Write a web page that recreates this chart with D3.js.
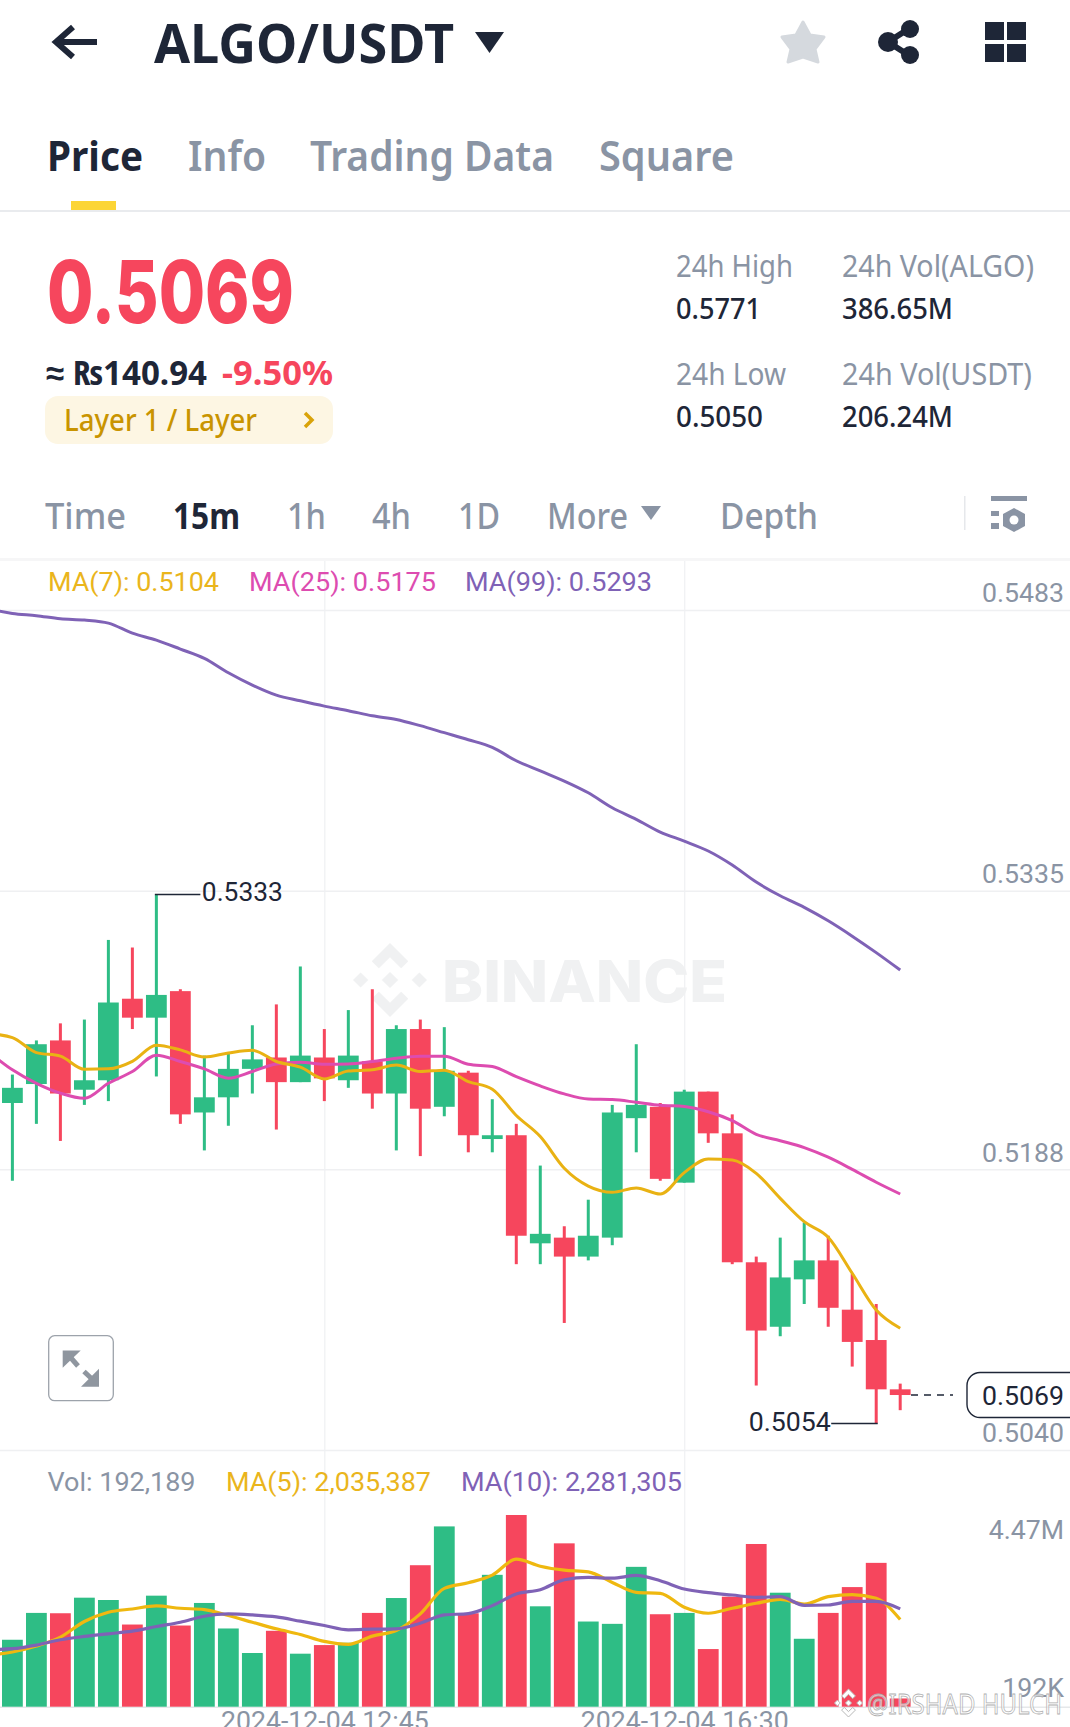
<!DOCTYPE html>
<html><head><meta charset="utf-8">
<style>html,body{margin:0;padding:0;background:#fff;overflow:hidden}svg{display:block}</style>
<script src="https://cdnjs.cloudflare.com/ajax/libs/d3/7.8.5/d3.min.js"></script>
</head><body><svg id="c" width="1070" height="1727"></svg>
<script>
const opens=[.5223,.5233,.5256,.5230,.5235,.5278,.5268,.5282,.5218,.5226,.5241,.5247,.5234,.5247,.5235,.5245,.5228,.5262,.5221,.5239,.5204,.5206,.5149,.5152,.5142,.5152,.5215,.5221,.5181,.5229,.5207,.5139,.5105,.5130,.5140,.5114,.5098,.5072];
const closes=[.5231,.5254,.5228,.5235,.5276,.5268,.5280,.5217,.5226,.5241,.5246,.5234,.5248,.5236,.5248,.5228,.5262,.5220,.5240,.5206,.5206,.5153,.5154,.5142,.5153,.5218,.5222,.5183,.5229,.5207,.5139,.5103,.5131,.5140,.5115,.5097,.5072,.5069];
const highs=[.5238,.5256,.5265,.5267,.5309,.5305,.5333,.5283,.5248,.5249,.5264,.5275,.5295,.5262,.5272,.5283,.5264,.5267,.5263,.5240,.5225,.5212,.5190,.5158,.5172,.5222,.5254,.5223,.5230,.5229,.5217,.5142,.5152,.5160,.5153,.5133,.5117,.5075];
const lows=[.5182,.5212,.5203,.5222,.5224,.5262,.5237,.5212,.5198,.5211,.5228,.5209,.5234,.5224,.5231,.5220,.5198,.5195,.5216,.5197,.5197,.5138,.5138,.5107,.5140,.5148,.5197,.5182,.5181,.5202,.5138,.5074,.5100,.5117,.5105,.5084,.5054,.5061];
// moving averages: first value belongs to the candle just left of the screen
const ma7=[.52596,.52575,.52496,.52477,.52408,.52410,.52450,.52535,.52510,.52473,.52494,.52508,.52449,.52419,.52357,.52399,.52405,.52430,.52396,.52403,.52343,.52303,.52164,.52053,.51886,.51792,.51759,.51782,.51750,.51863,.51935,.51929,.51859,.51727,.51604,.51522,.51332,.51138,.51042];
const ma25=[.52501,.52405,.52334,.52282,.52255,.52334,.52396,.52482,.52449,.52410,.52361,.52396,.52436,.52445,.52434,.52436,.52449,.52466,.52477,.52477,.52434,.52422,.52369,.52320,.52278,.52251,.52248,.52234,.52218,.52212,.52184,.52137,.52065,.52031,.51995,.51944,.51880,.51812,.51750];
const ma99=[.54835,.54812,.54800,.54784,.54777,.54761,.54708,.54671,.54624,.54575,.54499,.54434,.54381,.54351,.54323,.54299,.54272,.54253,.54220,.54183,.54146,.54105,.54035,.53981,.53928,.53866,.53787,.53726,.53659,.53611,.53559,.53485,.53395,.53323,.53262,.53191,.53110,.53023,.52931];
const volumes=[1561,2187,2179,2542,2488,1916,2589,1893,2419,1824,1252,1770,1236,1437,1491,2187,2534,3299,4204,2179,3075,4470,2341,3809,1986,1932,3261,2156,2187,1344,2565,3794,2658,1584,2187,2789,3354,192.189];
const volMa5=[1198,1275,1414,1623,1986,2202,2279,2349,2295,2264,2125,1970,1816,1685,1522,1453,1646,1777,2164,2759,2890,3068,3439,3276,3184,3145,2898,2666,2643,2318,2179,2295,2411,2504,2395,2565,2612,2527,2035];
const volMa10=[1329,1352,1437,1561,1638,1700,1762,1870,1970,2110,2164,2140,2094,1994,1893,1793,1808,1816,1947,2140,2171,2357,2627,2728,2959,3014,2998,3060,2936,2743,2658,2604,2550,2565,2364,2372,2457,2457,2281];
const priceTicks=[.5483,.5335,.5188,.5040];
const volTicks=[4470,192];
const volTickLabels=["4.47M","192K"];
const timeTickIdx=[13,28];
const timeTickLabels=["2024-12-04 12:45","2024-12-04 16:30"];

const RED="#f6465d",GRN="#2ebd85",DARK="#1e2637",GREY="#8a94a4",YEL="#eab51c",PNK="#dd4cb0",PUR="#7f62b6",GRID="#eff0f2";
const FH="'Noto Sans',sans-serif",FR="Roboto,sans-serif";
const svg=d3.select("#c");
const x=d3.scaleLinear().domain([0,37]).range([12.4,900.2]);
const y=d3.scaleLinear().domain([.5040,.5483]).range([1450,610]);
const yV=d3.scaleLinear().domain([0,4470]).range([1706.7,1515]);
const BW=20.8;

function T(s,px,py,size,fill,weight,w,font,anchor){
  const t=svg.append("text").text(s).attr("x",px).attr("y",py).attr("font-size",size).attr("fill",fill)
    .attr("font-weight",weight||400).attr("font-family",font||FH).attr("text-anchor",anchor||"start");
  if(w)t.attr("textLength",w).attr("lengthAdjust","spacingAndGlyphs");
  return t;
}
function binLogo(cx,cy,r,fill,stroke){
  const s=r/36.5, gg=svg.append("g").attr("transform",`translate(${cx},${cy}) scale(${s})`).attr("fill",fill);
  gg.append("path").attr("d","M0,-36.5 L18,-18.5 L11,-11.5 L0,-22.5 L-11,-11.5 L-18,-18.5Z");
  gg.append("path").attr("d","M0,36.5 L18,18.5 L11,11.5 L0,22.5 L-11,11.5 L-18,18.5Z");
  gg.append("path").attr("d","M-36.5,0 L-29,-7.5 L-21.5,0 L-29,7.5Z M36.5,0 L29,-7.5 L21.5,0 L29,7.5Z M0,-8 L8,0 L0,8 L-8,0Z");
  if(stroke)gg.attr("stroke",stroke).attr("stroke-width",1/s);
  return gg;
}

/* ---------- header ---------- */
svg.append("path").attr("d","M97,42 H60 M73,27 L56,42 L73,57").attr("fill","none").attr("stroke",DARK).attr("stroke-width",6);
T("ALGO/USDT",154,62.5,53,DARK,700,300);
svg.append("path").attr("d","M475,32 H504 L489.5,53Z").attr("fill",DARK);
svg.append("path").attr("d","M803,22 L810,35 L824,37 L815,49 L818,62 L803,57 L788,62 L791,49 L782,37 L796,35Z").attr("fill","#d5d9de").attr("stroke","#d5d9de").attr("stroke-width",3).attr("stroke-linejoin","round");
svg.append("path").attr("d","M910,28 L888,42 L910,56").attr("fill","none").attr("stroke",DARK).attr("stroke-width",6);
[[888,42,10],[910,29,9],[910,55,9]].forEach(c=>svg.append("circle").attr("cx",c[0]).attr("cy",c[1]).attr("r",c[2]).attr("fill",DARK));
[[985,22],[1007,22],[985,44],[1007,44]].forEach(c=>svg.append("rect").attr("x",c[0]).attr("y",c[1]).attr("width",19).attr("height",18).attr("fill",DARK));

T("Price",47,170.7,41,DARK,700,96);
T("Info",188,170.7,41,GREY,600,78);
T("Trading Data",310,170.7,41,GREY,600,244);
T("Square",599,170.7,41,GREY,600,135);
svg.append("rect").attr("x",71).attr("y",201).attr("width",45).attr("height",9).attr("fill","#fcd535");
svg.append("rect").attr("x",0).attr("y",210).attr("width",1070).attr("height",2).attr("fill","#e9ebee");

T("0.5069",47,323,86,RED,800,247,"Inter,sans-serif");
T("≈ ₨140.94",46,385,34,DARK,700,161);
T("-9.50%",222,385,34,RED,700,111);
svg.append("rect").attr("x",45).attr("y",396).attr("width",288).attr("height",48).attr("rx",13).attr("fill","#fdf6e3");
T("Layer 1 / Layer",64,431,30,"#c99400",500,193);
svg.append("path").attr("d","M305,413 L312,420 L305,427").attr("fill","none").attr("stroke","#d9a30a").attr("stroke-width",3.5);

T("24h High",676,277,30,GREY,400,117);
T("24h Vol(ALGO)",842,277,30,GREY,400,192);
T("0.5771",676,319,29,DARK,500,85);
T("386.65M",842,319,29,DARK,500,111);
T("24h Low",676,385,30,GREY,400,110);
T("24h Vol(USDT)",842,385,30,GREY,400,190);
T("0.5050",676,427,29,DARK,500,87);
T("206.24M",842,427,29,DARK,500,111);

T("Time",45,529,36,GREY,500,81);
T("15m",173,529,36,DARK,700,67);
T("1h",287,529,36,GREY,500,39);
T("4h",372,529,36,GREY,500,39);
T("1D",458,529,36,GREY,500,42);
T("More",547,529,36,GREY,500,81);
svg.append("path").attr("d","M641,506 H661 L651,520Z").attr("fill",GREY);
T("Depth",720,529,36,GREY,500,98);
svg.append("rect").attr("x",964).attr("y",496).attr("width",1.5).attr("height",34).attr("fill","#e6e8eb");
svg.append("rect").attr("x",991).attr("y",496).attr("width",36).attr("height",5).attr("fill",GREY);
svg.append("rect").attr("x",991).attr("y",511).attr("width",8).attr("height",5).attr("fill",GREY);
svg.append("rect").attr("x",991).attr("y",523).attr("width",8).attr("height",6).attr("fill",GREY);
svg.append("path").attr("d","M1014,508 L1025,514 L1025,526 L1014,532 L1003,526 L1003,514Z").attr("fill",GREY);
svg.append("circle").attr("cx",1014).attr("cy",520).attr("r",4.5).attr("fill","#fff");
svg.append("rect").attr("x",0).attr("y",558).attr("width",1070).attr("height",3).attr("fill","#f6f6f7");

/* ---------- grid and axes ---------- */
const gGrid=svg.append("g").attr("transform","translate(1070,0)")
 .call(d3.axisLeft(y).tickValues(priceTicks).tickSize(1070).tickFormat(""));
gGrid.select(".domain").remove();
gGrid.selectAll("line").attr("stroke",GRID).attr("stroke-width",1.5);

const gT=svg.append("g").attr("transform","translate(0,561)")
 .call(d3.axisBottom(x).tickValues(timeTickIdx).tickSize(1146).tickPadding(0).tickFormat((d,i)=>timeTickLabels[i]));
gT.select(".domain").remove();
gT.selectAll("line").attr("stroke",GRID).attr("stroke-width",1.2);
gT.selectAll("text").attr("y",1168.7).attr("dy",0).attr("font-family",FR).attr("font-size",26.7).attr("fill",GREY).attr("text-anchor","middle");
svg.append("line").attr("x1",0).attr("x2",1070).attr("y1",yV(0)+.5).attr("y2",yV(0)+.5).attr("stroke","#e6e8ea").attr("stroke-width",1.5);

/* watermark */
binLogo(390,980,37,"#f0f1f2");
T("BINANCE",442,1002,58,"#f0f1f2",800,285,"Inter,sans-serif");

/* legends */
T("MA(7): 0.5104",48,590.7,26.7,YEL,400,171,FR);
T("MA(25): 0.5175",249,590.7,26.7,PNK,400,187,FR);
T("MA(99): 0.5293",465,590.7,26.7,PUR,400,187,FR);
T("Vol: 192,189",47.5,1490.7,26.7,GREY,400,148,FR);
T("MA(5): 2,035,387",226,1490.7,26.7,YEL,400,205,FR);
T("MA(10): 2,281,305",461,1490.7,26.7,PUR,400,221,FR);

/* ---------- candles ---------- */
const cs=opens.map((o,i)=>({i,o,c:closes[i],h:highs[i],l:lows[i],v:volumes[i]}));
const col=d=>d.c>=d.o?GRN:RED;
const gc=svg.append("g");
gc.selectAll("rect.w").data(cs).join("rect").attr("class","w")
  .attr("x",d=>x(d.i)-1.5).attr("width",3).attr("y",d=>y(d.h)).attr("height",d=>y(d.l)-y(d.h)).attr("fill",col);
gc.selectAll("rect.b").data(cs).join("rect").attr("class","b")
  .attr("x",d=>x(d.i)-BW/2).attr("width",BW).attr("y",d=>y(Math.max(d.o,d.c))).attr("height",d=>Math.max(3,Math.abs(y(d.o)-y(d.c)))).attr("fill",col);

const gv=svg.append("g");
gv.selectAll("rect").data(cs).join("rect").attr("x",d=>x(d.i)-BW/2).attr("width",BW)
  .attr("y",d=>yV(d.v)).attr("height",d=>yV(0)-yV(d.v)).attr("fill",col);

/* ---------- MA lines ---------- */
const lnP=d3.line().x((d,i)=>x(i-1)).y(d=>y(d)).curve(d3.curveMonotoneX);
const lnV=d3.line().x((d,i)=>x(i-1)).y(d=>yV(d)).curve(d3.curveMonotoneX);
[[ma99,PUR],[ma25,PNK],[ma7,"#e9b213"]].forEach(a=>svg.append("path").attr("d",lnP(a[0])).attr("fill","none").attr("stroke",a[1]).attr("stroke-width",3).attr("stroke-linejoin","round"));
[[volMa5,"#efb80f"],[volMa10,PUR]].forEach(a=>svg.append("path").attr("d",lnV(a[0])).attr("fill","none").attr("stroke",a[1]).attr("stroke-width",3.2).attr("stroke-linejoin","round"));

/* axis labels above marks */
const gY=svg.append("g").attr("transform","translate(1070,0)")
 .call(d3.axisLeft(y).tickValues(priceTicks).tickSize(0).tickFormat(d3.format(".4f")));
gY.select(".domain").remove();
gY.selectAll("text").attr("x",-6).attr("y",-8.3).attr("dy",0).attr("text-anchor","end").attr("font-family",FR).attr("font-size",26.7).attr("fill",GREY);

const gVol=svg.append("g").attr("transform","translate(1070,0)")
 .call(d3.axisLeft(yV).tickValues(volTicks).tickSize(0).tickFormat((d,i)=>volTickLabels[i]));
gVol.select(".domain").remove();
gVol.selectAll("text").attr("x",-6).attr("dy",0).attr("y",(d,i)=>i==0?23.3:-1.7).attr("text-anchor","end").attr("font-family",FR).attr("font-size",26.7).attr("fill",GREY);

/* ---------- annotations ---------- */
const hiI=highs.indexOf(d3.max(highs)),loI=lows.indexOf(d3.min(lows));
svg.append("line").attr("x1",x(hiI)-1.5).attr("x2",x(hiI)+44).attr("y1",y(highs[hiI])).attr("y2",y(highs[hiI])).attr("stroke",DARK).attr("stroke-width",1.5);
T(d3.format(".4f")(highs[hiI]),x(hiI)+45.5,901,26.7,DARK,400,81,FR);
svg.append("line").attr("x1",x(loI)+1.5).attr("x2",x(loI)-45).attr("y1",y(lows[loI])).attr("y2",y(lows[loI])).attr("stroke",DARK).attr("stroke-width",1.5);
T(d3.format(".4f")(lows[loI]),x(loI)-127.5,1431,26.7,DARK,400,82,FR);

const lastP=closes[closes.length-1];
svg.append("line").attr("x1",911).attr("x2",953).attr("y1",y(lastP)).attr("y2",y(lastP)).attr("stroke",DARK).attr("stroke-width",1.3).attr("stroke-dasharray","7 6");
svg.append("rect").attr("x",967).attr("y",y(lastP)-22.5).attr("width",120).attr("height",45).attr("rx",13).attr("fill","#fff").attr("stroke",DARK).attr("stroke-width",1.4);
T(d3.format(".4f")(lastP),1064,y(lastP)+10,26.7,DARK,400,82,FR,"end");

/* fullscreen button */
svg.append("rect").attr("x",48.7).attr("y",1335.7).attr("width",64.6).attr("height",65).attr("rx",6).attr("fill","#fff").attr("stroke","#9da3ab").attr("stroke-width",1.3);
const gf=svg.append("g").attr("fill","#8f969f");
gf.append("path").attr("d","M62.7,1350.5 H80.7 L62.7,1367.7Z");
gf.append("path").attr("d","M99,1386.7 H81 L99,1368.7Z");
svg.append("path").attr("d","M71,1358 L78,1366 M84,1371.5 L92,1379").attr("stroke","#8f969f").attr("stroke-width",5);

/* bottom-right credit */
binLogo(848.5,1703,14,"#ffffff","#b8b8b8");
T("@IRSHAD HULCH",867,1714,28,"rgba(255,255,255,.6)",400,195,FH).attr("stroke","#b0b0b0").attr("stroke-width",.8);
</script></body></html>
